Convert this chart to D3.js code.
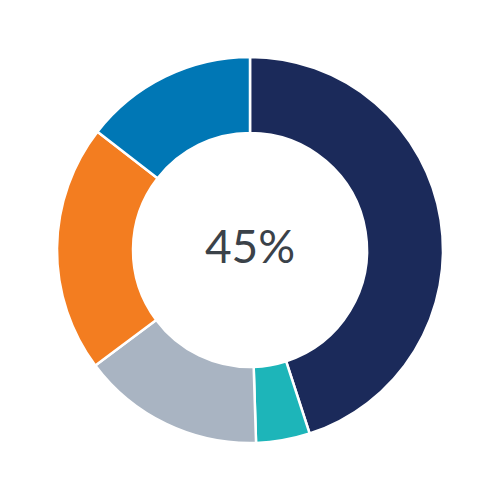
<!DOCTYPE html>
<html lang="en">
<head>
  <meta charset="UTF-8">
  <title>Donut</title>
  <script src="https://d3js.org/d3.v7.min.js"></script>
  <style>
    body { margin: 0; background: #fff; }
    .slice { stroke: #fff; stroke-width: 2.5px; }
    .center-label { font-family: Lato, sans-serif; font-weight: 400; fill: #3b4249; }
  </style>
</head>
<body>
  <svg></svg>
  <script>
    const categories = ["A", "B", "C", "D", "E"];
    const values = [45, 4.5, 15.3, 20.7, 14.5];
    const colors = ["#1b2a5a", "#1db5b9", "#a9b4c2", "#f37d20", "#0077b5"];
    const centerText = "45%";

    const width = 500;
    const height = 500;
    const outerR = 193;
    const innerR = 117;

    const svg = d3.select("svg")
        .attr("width", width)
        .attr("height", height);

    const g = svg.append("g")
        .attr("transform", `translate(${width / 2},${height / 2})`);

    const pie = d3.pie().sort(null).value(d => d.value);
    const arc = d3.arc().innerRadius(innerR).outerRadius(outerR);

    const data = categories.map((c, i) => ({ name: c, value: values[i], color: colors[i] }));

    g.selectAll("path.slice")
        .data(pie(data))
        .join("path")
        .attr("class", "slice")
        .attr("fill", d => d.data.color)
        .attr("d", arc);

    g.append("text")
        .attr("class", "center-label")
        .attr("text-anchor", "middle")
        .attr("y", -4)
        .attr("dy", "0.36em")
        .style("font-size", "46px")
        .text(centerText);
  </script>
</body>
</html>
